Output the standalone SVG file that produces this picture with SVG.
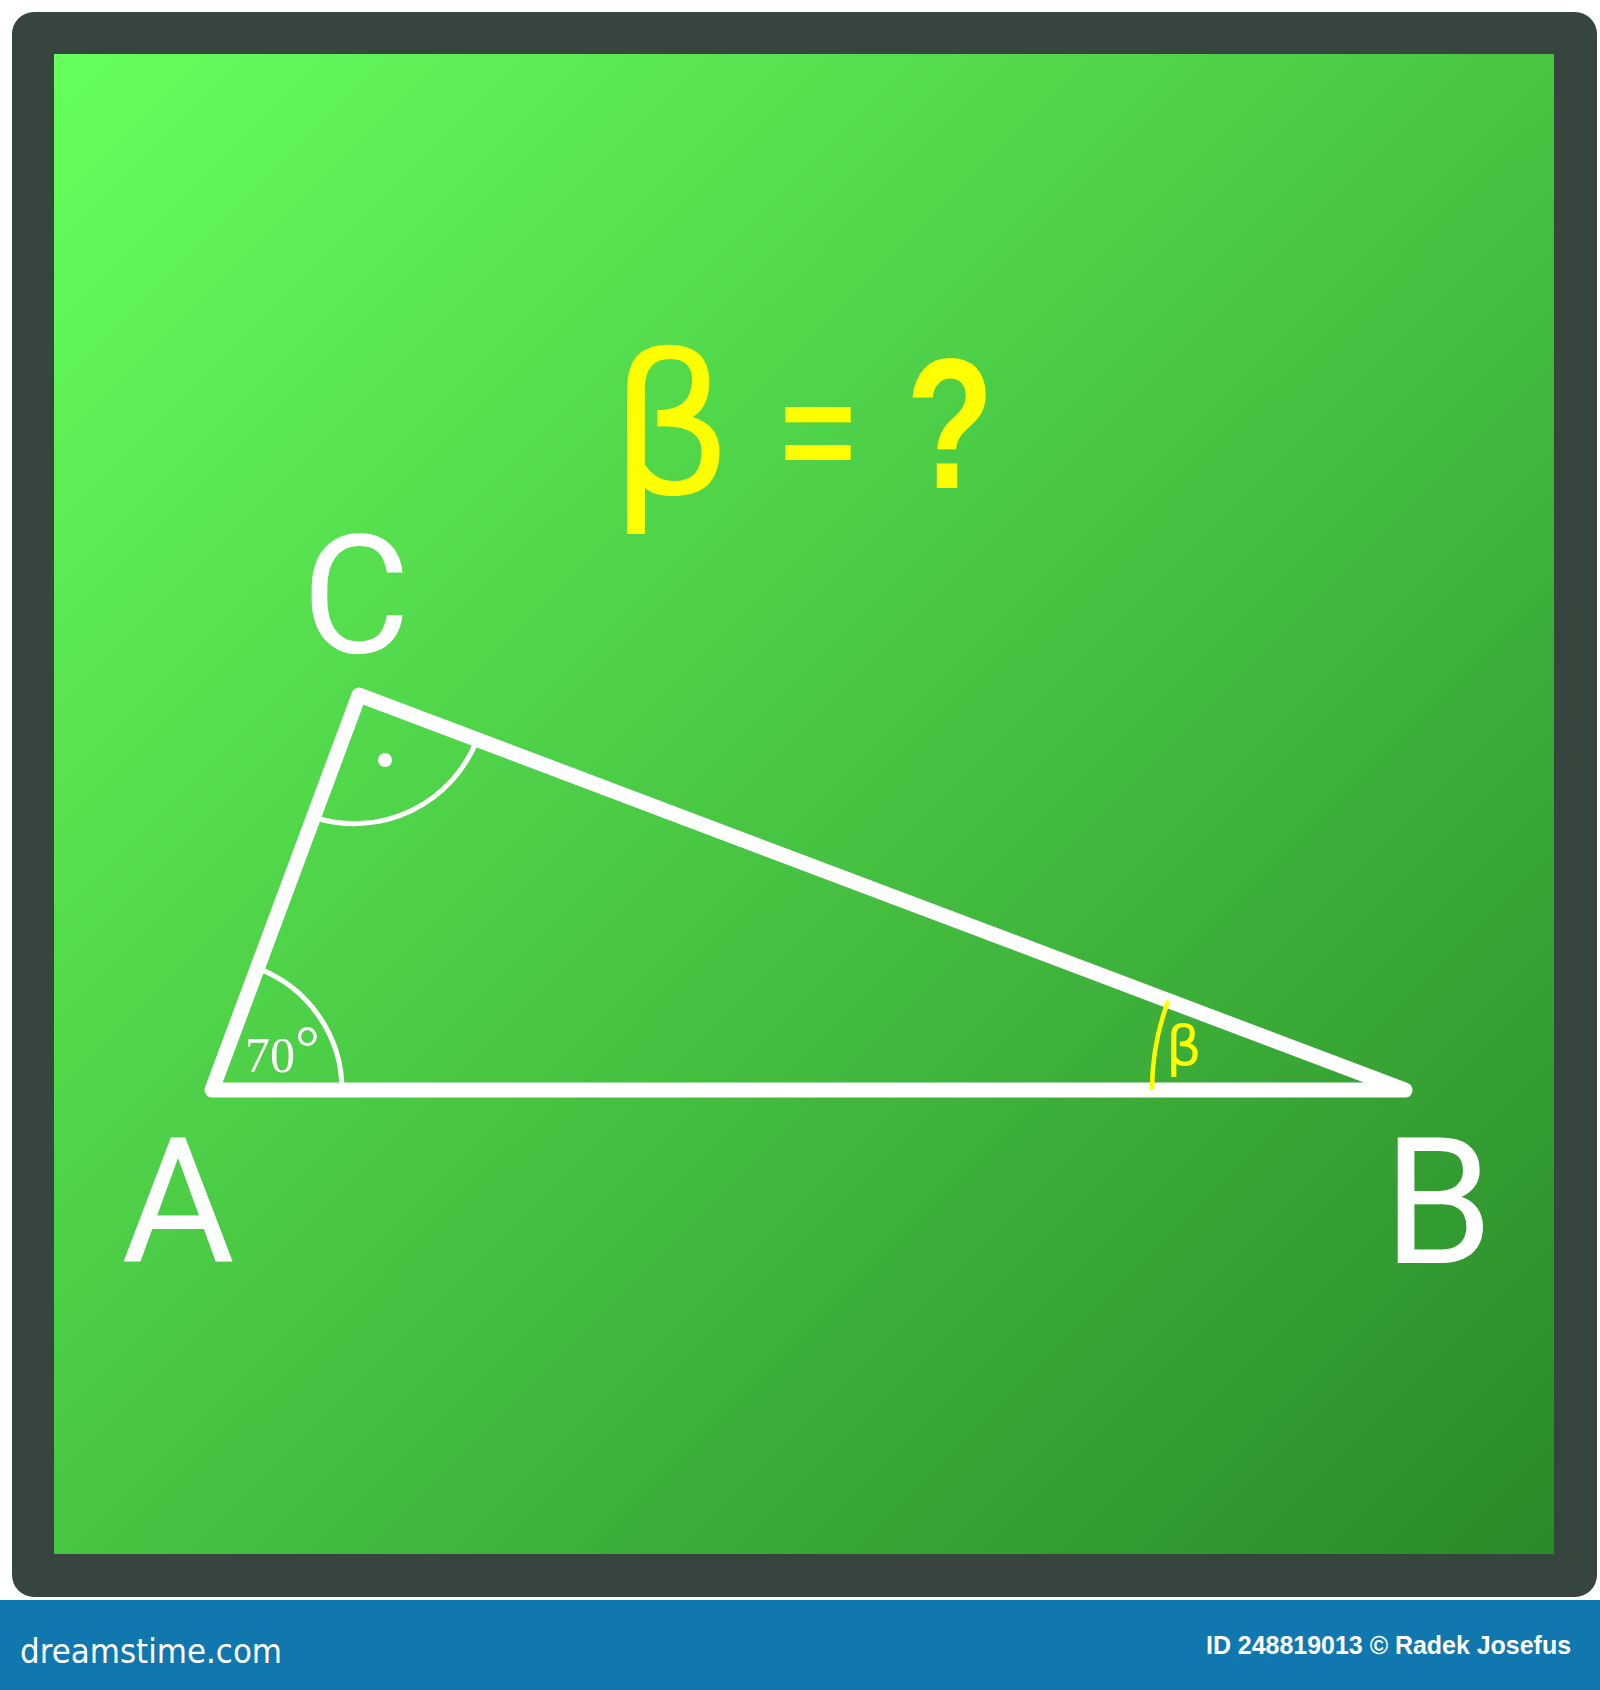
<svg xmlns="http://www.w3.org/2000/svg" width="1600" height="1690" viewBox="0 0 1600 1690">
  <defs>
    <linearGradient id="board" x1="0" y1="0" x2="1" y2="1">
      <stop offset="0" stop-color="#66FF5C"/>
      <stop offset="1" stop-color="#298A29"/>
    </linearGradient>
    <style>
      .edge { fill: none; stroke: #FFFFFF; stroke-width: 15; stroke-linecap: round; stroke-linejoin: round; }
      .arc { fill: none; stroke: #FFFFFF; stroke-width: 5; }
      .yarc { fill: none; stroke: #FFFF00; stroke-width: 4.5; }
      .vertex { font-family: Roboto, "Liberation Sans", sans-serif; fill: #FFFFFF; text-anchor: middle; }
      .yellow { fill: #FFFF00; }
      .footer { fill: #FFFFFF; }
      .logo { font-family: "DejaVu Sans", "Liberation Sans", sans-serif; }
      .credit { font-family: "Liberation Sans", Arial, sans-serif; font-weight: bold; }
    </style>
  </defs>

  <rect x="0" y="0" width="1600" height="1690" fill="#FFFFFF"/>

  <g id="board-frame">
    <rect x="12" y="12" width="1585" height="1585" rx="22" ry="22" fill="#36463F"/>
    <rect x="54" y="54" width="1500" height="1500" fill="url(#board)"/>
  </g>

  <g id="connectors">
    <polygon class="edge" points="212,1090 359,695 1405,1090"/>
    <path class="arc" d="M 316 818 A 132 132 0 0 0 477 740"/>
    <path class="arc" d="M 342 1090 A 130 130 0 0 0 257.3 968.2"/>
    <path class="yarc" d="M 1152 1090 A 253 253 0 0 1 1168.3 1000.6"/>
  </g>

  <g id="node-A">
    <text class="vertex" x="178" y="1262" font-size="174">A</text>
    <text x="245" y="1072" font-family="'Liberation Serif', serif" font-size="50" fill="#FFFFFF">70<tspan font-size="62" dy="-4">°</tspan></text>
  </g>

  <g id="node-C">
    <text class="vertex" x="356" y="652" font-size="166">C</text>
    <circle cx="385" cy="760" r="7" fill="#FFFFFF"/>
  </g>

  <g id="node-B">
    <text class="vertex" x="1438" y="1263" font-size="176">B</text>
    <text class="yellow" x="1166" y="1065" font-family="'DejaVu Sans', sans-serif" font-size="56">β</text>
  </g>

  <g id="question">
    <text class="yellow" x="609" y="494" font-family="'DejaVu Sans', sans-serif" font-size="195">β</text>
    <text class="yellow" x="780" y="480" font-family="'Liberation Sans', Arial, sans-serif" font-weight="bold" font-size="140" textLength="76" lengthAdjust="spacingAndGlyphs">=</text>
    <text class="yellow" x="906" y="488" font-family="'Liberation Sans', Arial, sans-serif" font-weight="bold" font-size="186" textLength="88" lengthAdjust="spacingAndGlyphs">?</text>
  </g>

  <g id="footer">
    <rect x="0" y="1600" width="1600" height="90" fill="#1177AF"/>
    <text class="footer logo" x="20" y="1663" font-size="34" textLength="262" lengthAdjust="spacingAndGlyphs">dreamstime.com</text>
    <text class="footer credit" x="1206" y="1654" font-size="25" textLength="365" lengthAdjust="spacingAndGlyphs">ID 248819013 © Radek Josefus</text>
  </g>
</svg>
